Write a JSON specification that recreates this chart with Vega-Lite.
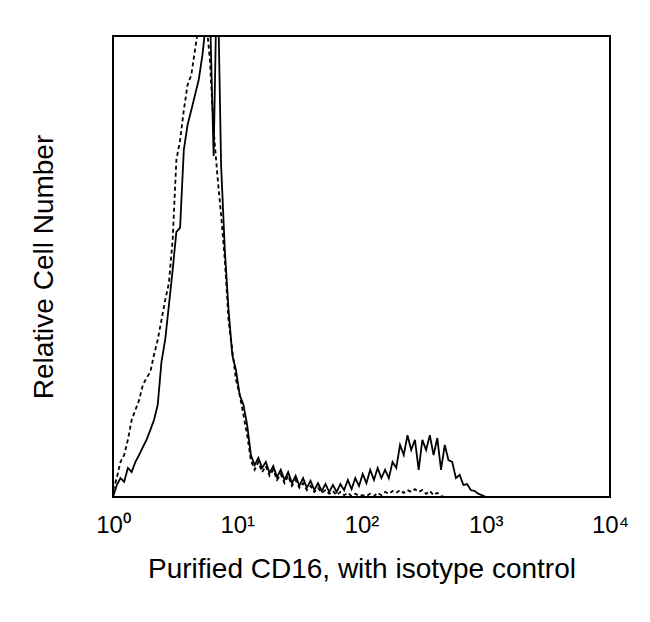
{
  "$schema": "https://vega.github.io/schema/vega-lite/v6.json",
  "width": 497,
  "height": 461,
  "autosize": {"type": "none"},
  "padding": {"left": 113, "top": 36, "right": 40, "bottom": 125},
  "config": {"view": {"stroke": "black", "strokeWidth": 2}, "font": "Liberation Sans"},
  "data": {
    "values": [
      {"s": "CD16", "x": 1.000, "y": 0},
      {"s": "CD16", "x": 1.072, "y": 2.6},
      {"s": "CD16", "x": 1.148, "y": 4.1},
      {"s": "CD16", "x": 1.230, "y": 3.3},
      {"s": "CD16", "x": 1.318, "y": 6.3},
      {"s": "CD16", "x": 1.413, "y": 5.4},
      {"s": "CD16", "x": 1.514, "y": 7.6},
      {"s": "CD16", "x": 1.622, "y": 9.1},
      {"s": "CD16", "x": 1.738, "y": 10.8},
      {"s": "CD16", "x": 1.862, "y": 12.4},
      {"s": "CD16", "x": 1.995, "y": 14.5},
      {"s": "CD16", "x": 2.138, "y": 16.7},
      {"s": "CD16", "x": 2.291, "y": 20.0},
      {"s": "CD16", "x": 2.455, "y": 29.3},
      {"s": "CD16", "x": 2.630, "y": 34.1},
      {"s": "CD16", "x": 2.818, "y": 41.6},
      {"s": "CD16", "x": 3.020, "y": 49.2},
      {"s": "CD16", "x": 3.236, "y": 57.5},
      {"s": "CD16", "x": 3.467, "y": 58.4},
      {"s": "CD16", "x": 3.715, "y": 75.3},
      {"s": "CD16", "x": 3.981, "y": 80.7},
      {"s": "CD16", "x": 4.266, "y": 83.9},
      {"s": "CD16", "x": 4.571, "y": 87.2},
      {"s": "CD16", "x": 4.898, "y": 90.5},
      {"s": "CD16", "x": 5.248, "y": 95.9},
      {"s": "CD16", "x": 5.623, "y": 103.5},
      {"s": "CD16", "x": 6.026, "y": 105.6},
      {"s": "CD16", "x": 6.457, "y": 74.0},
      {"s": "CD16", "x": 6.761, "y": 104.0},
      {"s": "CD16", "x": 7.079, "y": 102.0},
      {"s": "CD16", "x": 7.413, "y": 72.0},
      {"s": "CD16", "x": 7.943, "y": 53.6},
      {"s": "CD16", "x": 8.511, "y": 40.6},
      {"s": "CD16", "x": 9.120, "y": 30.8},
      {"s": "CD16", "x": 9.772, "y": 27.5},
      {"s": "CD16", "x": 10.47, "y": 22.1},
      {"s": "CD16", "x": 11.22, "y": 20.0},
      {"s": "CD16", "x": 12.02, "y": 15.6},
      {"s": "CD16", "x": 12.88, "y": 9.1},
      {"s": "CD16", "x": 13.80, "y": 6.9},
      {"s": "CD16", "x": 14.79, "y": 8.5},
      {"s": "CD16", "x": 15.85, "y": 6.3},
      {"s": "CD16", "x": 16.98, "y": 7.6},
      {"s": "CD16", "x": 18.20, "y": 5.2},
      {"s": "CD16", "x": 19.50, "y": 6.7},
      {"s": "CD16", "x": 20.89, "y": 4.3},
      {"s": "CD16", "x": 22.39, "y": 5.9},
      {"s": "CD16", "x": 23.99, "y": 3.7},
      {"s": "CD16", "x": 25.70, "y": 5.4},
      {"s": "CD16", "x": 27.54, "y": 3.0},
      {"s": "CD16", "x": 29.51, "y": 4.6},
      {"s": "CD16", "x": 31.62, "y": 2.4},
      {"s": "CD16", "x": 33.88, "y": 4.1},
      {"s": "CD16", "x": 36.31, "y": 2.0},
      {"s": "CD16", "x": 38.90, "y": 3.5},
      {"s": "CD16", "x": 41.69, "y": 1.5},
      {"s": "CD16", "x": 44.67, "y": 3.0},
      {"s": "CD16", "x": 47.86, "y": 1.3},
      {"s": "CD16", "x": 51.29, "y": 2.8},
      {"s": "CD16", "x": 54.95, "y": 1.1},
      {"s": "CD16", "x": 58.88, "y": 2.6},
      {"s": "CD16", "x": 63.10, "y": 1.1},
      {"s": "CD16", "x": 67.61, "y": 2.8},
      {"s": "CD16", "x": 72.44, "y": 1.5},
      {"s": "CD16", "x": 77.62, "y": 3.7},
      {"s": "CD16", "x": 83.18, "y": 1.7},
      {"s": "CD16", "x": 89.13, "y": 4.1},
      {"s": "CD16", "x": 95.50, "y": 2.4},
      {"s": "CD16", "x": 102.3, "y": 5.0},
      {"s": "CD16", "x": 109.6, "y": 3.0},
      {"s": "CD16", "x": 117.5, "y": 5.9},
      {"s": "CD16", "x": 125.9, "y": 3.7},
      {"s": "CD16", "x": 134.9, "y": 6.3},
      {"s": "CD16", "x": 144.5, "y": 4.1},
      {"s": "CD16", "x": 154.9, "y": 5.9},
      {"s": "CD16", "x": 166.0, "y": 4.1},
      {"s": "CD16", "x": 177.8, "y": 7.6},
      {"s": "CD16", "x": 190.5, "y": 6.3},
      {"s": "CD16", "x": 204.2, "y": 11.3},
      {"s": "CD16", "x": 218.8, "y": 9.1},
      {"s": "CD16", "x": 234.4, "y": 13.4},
      {"s": "CD16", "x": 251.2, "y": 10.2},
      {"s": "CD16", "x": 269.2, "y": 12.4},
      {"s": "CD16", "x": 288.4, "y": 5.9},
      {"s": "CD16", "x": 309.0, "y": 12.4},
      {"s": "CD16", "x": 331.1, "y": 10.2},
      {"s": "CD16", "x": 354.8, "y": 13.4},
      {"s": "CD16", "x": 380.2, "y": 9.1},
      {"s": "CD16", "x": 407.4, "y": 12.8},
      {"s": "CD16", "x": 436.5, "y": 5.9},
      {"s": "CD16", "x": 467.7, "y": 11.3},
      {"s": "CD16", "x": 501.2, "y": 8.0},
      {"s": "CD16", "x": 537.0, "y": 7.6},
      {"s": "CD16", "x": 575.4, "y": 4.1},
      {"s": "CD16", "x": 616.6, "y": 4.8},
      {"s": "CD16", "x": 660.7, "y": 2.6},
      {"s": "CD16", "x": 707.9, "y": 2.8},
      {"s": "CD16", "x": 758.6, "y": 1.5},
      {"s": "CD16", "x": 812.8, "y": 1.3},
      {"s": "CD16", "x": 871.0, "y": 0.7},
      {"s": "CD16", "x": 933.3, "y": 0.4},
      {"s": "CD16", "x": 1000, "y": 0},
      {"s": "CD16", "x": 1072, "y": 0},
      {"s": "Isotype", "x": 1.000, "y": 1.5},
      {"s": "Isotype", "x": 1.072, "y": 4.1},
      {"s": "Isotype", "x": 1.148, "y": 7.6},
      {"s": "Isotype", "x": 1.230, "y": 9.1},
      {"s": "Isotype", "x": 1.318, "y": 12.4},
      {"s": "Isotype", "x": 1.413, "y": 16.7},
      {"s": "Isotype", "x": 1.514, "y": 18.9},
      {"s": "Isotype", "x": 1.622, "y": 21.0},
      {"s": "Isotype", "x": 1.738, "y": 24.3},
      {"s": "Isotype", "x": 1.862, "y": 25.8},
      {"s": "Isotype", "x": 1.995, "y": 27.1},
      {"s": "Isotype", "x": 2.138, "y": 30.8},
      {"s": "Isotype", "x": 2.291, "y": 34.1},
      {"s": "Isotype", "x": 2.455, "y": 38.4},
      {"s": "Isotype", "x": 2.630, "y": 42.7},
      {"s": "Isotype", "x": 2.818, "y": 46.4},
      {"s": "Isotype", "x": 3.020, "y": 55.7},
      {"s": "Isotype", "x": 3.236, "y": 73.1},
      {"s": "Isotype", "x": 3.467, "y": 77.4},
      {"s": "Isotype", "x": 3.715, "y": 83.9},
      {"s": "Isotype", "x": 3.981, "y": 89.4},
      {"s": "Isotype", "x": 4.266, "y": 91.5},
      {"s": "Isotype", "x": 4.571, "y": 97.0},
      {"s": "Isotype", "x": 4.898, "y": 102.4},
      {"s": "Isotype", "x": 5.248, "y": 104.6},
      {"s": "Isotype", "x": 5.623, "y": 103.5},
      {"s": "Isotype", "x": 6.026, "y": 94.8},
      {"s": "Isotype", "x": 6.457, "y": 79.6},
      {"s": "Isotype", "x": 6.918, "y": 69.8},
      {"s": "Isotype", "x": 7.413, "y": 61.2},
      {"s": "Isotype", "x": 7.943, "y": 51.4},
      {"s": "Isotype", "x": 8.511, "y": 38.4},
      {"s": "Isotype", "x": 9.120, "y": 31.9},
      {"s": "Isotype", "x": 9.772, "y": 25.4},
      {"s": "Isotype", "x": 10.47, "y": 22.1},
      {"s": "Isotype", "x": 11.22, "y": 17.8},
      {"s": "Isotype", "x": 12.02, "y": 13.4},
      {"s": "Isotype", "x": 12.88, "y": 8.0},
      {"s": "Isotype", "x": 13.80, "y": 5.9},
      {"s": "Isotype", "x": 14.79, "y": 7.6},
      {"s": "Isotype", "x": 15.85, "y": 5.4},
      {"s": "Isotype", "x": 16.98, "y": 6.7},
      {"s": "Isotype", "x": 18.20, "y": 4.6},
      {"s": "Isotype", "x": 19.50, "y": 5.9},
      {"s": "Isotype", "x": 20.89, "y": 3.7},
      {"s": "Isotype", "x": 22.39, "y": 5.0},
      {"s": "Isotype", "x": 23.99, "y": 3.0},
      {"s": "Isotype", "x": 25.70, "y": 4.6},
      {"s": "Isotype", "x": 27.54, "y": 2.4},
      {"s": "Isotype", "x": 29.51, "y": 3.7},
      {"s": "Isotype", "x": 31.62, "y": 2.0},
      {"s": "Isotype", "x": 33.88, "y": 3.0},
      {"s": "Isotype", "x": 36.31, "y": 1.5},
      {"s": "Isotype", "x": 38.90, "y": 2.4},
      {"s": "Isotype", "x": 41.69, "y": 1.1},
      {"s": "Isotype", "x": 44.67, "y": 2.0},
      {"s": "Isotype", "x": 47.86, "y": 0.9},
      {"s": "Isotype", "x": 51.29, "y": 1.5},
      {"s": "Isotype", "x": 54.95, "y": 0.7},
      {"s": "Isotype", "x": 58.88, "y": 1.3},
      {"s": "Isotype", "x": 63.10, "y": 0.4},
      {"s": "Isotype", "x": 67.61, "y": 1.1},
      {"s": "Isotype", "x": 72.44, "y": 0.4},
      {"s": "Isotype", "x": 77.62, "y": 0.9},
      {"s": "Isotype", "x": 83.18, "y": 0.2},
      {"s": "Isotype", "x": 89.13, "y": 0.7},
      {"s": "Isotype", "x": 95.50, "y": 0.2},
      {"s": "Isotype", "x": 102.3, "y": 0.4},
      {"s": "Isotype", "x": 109.6, "y": 0.2},
      {"s": "Isotype", "x": 117.5, "y": 0.7},
      {"s": "Isotype", "x": 125.9, "y": 0.2},
      {"s": "Isotype", "x": 134.9, "y": 0.9},
      {"s": "Isotype", "x": 144.5, "y": 0.4},
      {"s": "Isotype", "x": 154.9, "y": 1.1},
      {"s": "Isotype", "x": 166.0, "y": 0.7},
      {"s": "Isotype", "x": 177.8, "y": 1.3},
      {"s": "Isotype", "x": 190.5, "y": 0.9},
      {"s": "Isotype", "x": 204.2, "y": 1.5},
      {"s": "Isotype", "x": 218.8, "y": 0.9},
      {"s": "Isotype", "x": 234.4, "y": 1.5},
      {"s": "Isotype", "x": 251.2, "y": 1.1},
      {"s": "Isotype", "x": 269.2, "y": 1.7},
      {"s": "Isotype", "x": 288.4, "y": 1.1},
      {"s": "Isotype", "x": 309.0, "y": 1.5},
      {"s": "Isotype", "x": 331.1, "y": 0.7},
      {"s": "Isotype", "x": 354.8, "y": 1.3},
      {"s": "Isotype", "x": 380.2, "y": 0.4},
      {"s": "Isotype", "x": 407.4, "y": 0.9},
      {"s": "Isotype", "x": 436.5, "y": 0.2},
      {"s": "Isotype", "x": 467.7, "y": 0}
    ]
  },
  "mark": {"type": "line", "strokeWidth": 1.8, "clip": true},
  "encoding": {
    "x": {
      "field": "x",
      "type": "quantitative",
      "scale": {"type": "log", "domain": [1, 10000]},
      "axis": {
        "values": [1, 10, 100, 1000, 10000],
        "labelExpr": "datum.value == 1 ? '10⁰' : datum.value == 10 ? '10¹' : datum.value == 100 ? '10²' : datum.value == 1000 ? '10³' : '10⁴'",
        "grid": false,
        "ticks": false,
        "domain": false,
        "labelFlush": false,
        "labelFontSize": 24,
        "labelColor": "black",
        "labelPadding": 16,
        "labelOffset": 0,
        "title": "Purified CD16, with isotype control",
        "titleFontSize": 28,
        "titleFontWeight": "normal",
        "titleColor": "black",
        "titlePadding": 18
      }
    },
    "y": {
      "field": "y",
      "type": "quantitative",
      "scale": {"domain": [0, 100]},
      "axis": {
        "labels": false,
        "ticks": false,
        "grid": false,
        "domain": false,
        "title": "Relative Cell Number",
        "titleFontSize": 28,
        "titleFontWeight": "normal",
        "titleColor": "black",
        "titlePadding": 55
      }
    },
    "color": {"field": "s", "type": "nominal", "scale": {"range": ["black", "black"]}, "legend": null},
    "strokeDash": {
      "field": "s",
      "type": "nominal",
      "scale": {"domain": ["CD16", "Isotype"], "range": [[1, 0], [4, 3]]},
      "legend": null
    }
  }
}
